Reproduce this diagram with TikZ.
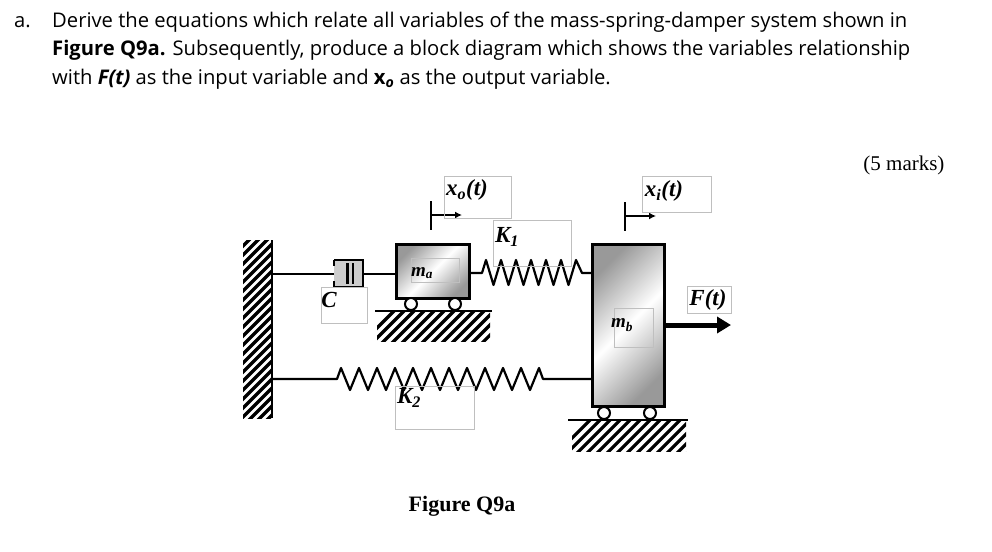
\documentclass[tikz,border=0pt]{standalone}
\usepackage{fontspec}
\usetikzlibrary{arrows.meta}
\setmainfont{Liberation Serif}
\newfontfamily\hdr{Open Sans}
\newfontfamily\tbi{Liberation Serif}[UprightFont=* Bold Italic]
\newcommand{\bi}{\tbi}
\begin{document}
\begin{tikzpicture}[x=1pt,y=-1pt,
  lbl/.style={font=\tbi\fontsize{23}{24}\selectfont, inner sep=0pt},
  slbl/.style={font=\tbi\fontsize{19}{20}\selectfont, inner sep=0pt},
  gbox/.style={draw=gray!50, line width=0.8pt},
  ln/.style={line width=2.2pt},
  hat/.style={line width=3.2pt},
  mass/.style={draw, line width=2.5pt, shading=axis, left color=gray!80, right color=gray!80, middle color=white, shading angle=45},
  hd/.style={font=\hdr\fontsize{20.2}{22}\selectfont, anchor=base west, inner sep=0pt}]
\useasboundingbox (0,0) rectangle (992,551);
% header
\node[hd] (ha) at (14,28) {a.};
\node[hd] (h1) at (52,28) {Derive the equations which relate all variables of the mass-spring-damper system shown in};
\node[hd] (h2) at (52,56) {\textbf{Figure Q9a.} Subsequently, produce a block diagram which shows the variables relationship};
\node[hd] (h3) at (52,84) {with \textbf{\textit{F(t)}} as the input variable and \textbf{x\textsubscript{\textit{o}}} as the output variable.};
\node[font=\fontsize{21}{22}\selectfont, anchor=east] (mk) at (948,165) {(5 marks)};
\node[font=\bfseries\fontsize{22}{22}\selectfont] (fig) at (462,506) {Figure Q9a};
% wall
\begin{scope}
\clip (243,240) rectangle (272,418);
\foreach \y in {240,249,...,460} \draw[hat] (240,\y) -- (276,\y-36);
\end{scope}
\draw[line width=2.5pt] (272,240) -- (272,418);
% grounds
\begin{scope}
\clip (377,312) rectangle (490,341);
\foreach \x in {360,370,...,520} \draw[hat] (\x,345) -- (\x+36,309);
\end{scope}
\draw[ln] (375,311) -- (492,311);
\begin{scope}
\clip (572,421) rectangle (686,451);
\foreach \x in {555,565,...,700} \draw[hat] (\x,455) -- (\x+36,419);
\end{scope}
\draw[ln] (568,420) -- (688,420);
% masses
\node[mass, minimum width=73pt, minimum height=54pt, anchor=north west, inner sep=0pt] (ma) at (395,243) {};
\node[mass, minimum width=72pt, minimum height=162pt, anchor=north west, inner sep=0pt] (mb) at (591,243) {};
\foreach \x in {411,455} \draw[line width=2pt, fill=white] (\x,304) circle (6);
\foreach \x in {604,650} \draw[line width=2pt, fill=white] (\x,413) circle (6);
% damper
\coordinate (w1) at (272,274);
\coordinate (w2) at (272,379);
\draw[ln] (w1) -- (345,274);
\fill[gray!40] (334,260) rectangle (362,286);
\draw[line width=2.5pt] (334,260) -- (363,260) -- (363,287) -- (334,287);
\draw[line width=2.5pt] (334,260) -- (334,266) (334,281) -- (334,287);
\draw[line width=3pt] (347,263) -- (347,284);
\draw[line width=1.5pt] (353,263) -- (353,284);
\draw[ln] (363,274) -- (ma.west |- 0,274);
% K1 spring
\draw[ln, line join=round] (ma.east |- 0,273) -- (482,273) -- (486,260)
  \foreach \i in {0,...,5} { -- ++(7.5,25) -- ++(7.5,-25) } -- (582,273) -- (mb.west |- 0,273);
% K2 spring
\draw[ln, line join=round] (w2) -- (337,379) -- (341,368)
  \foreach \i in {0,...,10} { -- ++(9,22) -- ++(9,-22) } -- (543,379) -- (mb.west |- 0,379);
% displacement markers
\draw[ln] (431,201) -- (431,230);
\draw[ln, -{Latex[length=7pt,width=7pt]}] (431,215) -- (462,215);
\draw[ln] (625,202) -- (625,231);
\draw[ln, -{Latex[length=7pt,width=7pt]}] (625,216) -- (656,216);
% force
\draw[line width=5pt, -{Triangle[length=14pt,width=16pt]}] (mb.east |- 0,325) -- (731,325);
% label boxes
\draw[gbox] (444,176) rectangle (511,218);
\draw[gbox] (642,176) rectangle (711,212);
\draw[gbox] (493,220) rectangle (571,266);
\draw[gbox] (411,258) rectangle (459,282);
\draw[gbox] (321,287) rectangle (367,323);
\draw[gbox] (687,286) rectangle (731,313);
\draw[gbox] (614,308) rectangle (653,347);
\draw[gbox] (395,386) rectangle (474,429);
\node[lbl] (lxo) at (467,190) {x\textsubscript{o}(t)};
\node[lbl] (lxi) at (664,191) {x\textsubscript{i}(t)};
\node[lbl] (lk1) at (507,237) {K\textsubscript{1}};
\node[slbl] (lma) at (422,273) {m\textsubscript{a}};
\node[lbl] (lc) at (329,300) {C};
\node[lbl] (lf) at (708,300) {F(t)};
\node[slbl] (lmb) at (622,325) {m\textsubscript{b}};
\node[lbl] (lk2) at (409,398) {K\textsubscript{2}};
\end{tikzpicture}
\end{document}
